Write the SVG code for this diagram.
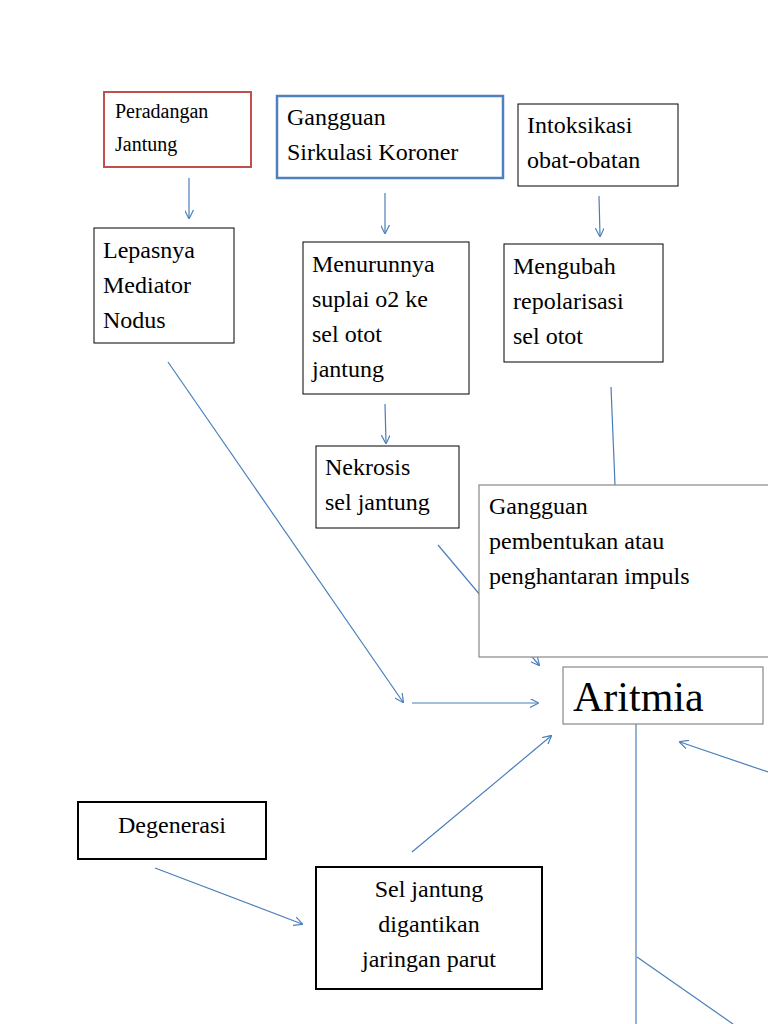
<svg xmlns="http://www.w3.org/2000/svg" width="768" height="1024" viewBox="0 0 768 1024">
<defs>
<marker id="a" viewBox="0 0 10 10" refX="9" refY="5" markerWidth="9" markerHeight="9" markerUnits="userSpaceOnUse" orient="auto"><path d="M0,0 L10,5 L0,10" fill="none" stroke="#4a7ebb" stroke-width="1.3"/></marker>
</defs>
<style>
text{font-family:"Liberation Serif",serif;fill:#000}
.b{fill:#fff;stroke:#000;stroke-width:1}
.c{stroke:#4a7ebb;stroke-width:1.2;fill:none}
.m{marker-end:url(#a)}
</style>
<rect width="768" height="1024" fill="#fff"/>
<g id="connectors">
<line class="c m" x1="189" y1="178" x2="189" y2="218"/>
<line class="c m" x1="385" y1="193" x2="385" y2="233"/>
<line class="c m" x1="599" y1="196" x2="600" y2="236"/>
<line class="c m" x1="385" y1="404" x2="386" y2="443"/>
<line class="c" x1="611" y1="387" x2="615" y2="485"/>
<line class="c m" x1="438" y1="545" x2="539" y2="665"/>
<line class="c m" x1="168" y1="362" x2="403" y2="702"/>
<line class="c m" x1="412" y1="703" x2="538" y2="703"/>
<line class="c m" x1="412" y1="852" x2="551" y2="736"/>
<line class="c m" x1="155" y1="868" x2="302" y2="924"/>
<line class="c m" x1="768" y1="772" x2="680" y2="742"/>
<line class="c" x1="636" y1="724" x2="636" y2="1024"/>
<line class="c" x1="637" y1="957" x2="733" y2="1024"/>
</g>
<g id="peradangan"><rect x="104" y="92" width="147" height="75" fill="#fff" stroke="#c0504d" stroke-width="2"/><text x="115" y="118" font-size="20">Peradangan</text><text x="115" y="151" font-size="20">Jantung</text></g>
<g id="gangguan-sirkulasi"><rect x="277" y="96" width="226" height="82" fill="#fff" stroke="#4f81bd" stroke-width="2.5"/><text x="287" y="125" font-size="24">Gangguan</text><text x="287" y="160" font-size="24">Sirkulasi Koroner</text></g>
<g id="intoksikasi"><rect class="b" x="518" y="104" width="160" height="82"/><text x="527" y="133" font-size="24">Intoksikasi</text><text x="527" y="168" font-size="24">obat-obatan</text></g>
<g id="lepasnya"><rect class="b" x="94" y="228" width="140" height="115"/><text x="103" y="258" font-size="24">Lepasnya</text><text x="103" y="293" font-size="24">Mediator</text><text x="103" y="328" font-size="24">Nodus</text></g>
<g id="menurunnya"><rect class="b" x="303" y="242" width="166" height="152"/><text x="312" y="272" font-size="24">Menurunnya</text><text x="312" y="307" font-size="24">suplai o2 ke</text><text x="312" y="342" font-size="24">sel otot</text><text x="312" y="377" font-size="24">jantung</text></g>
<g id="mengubah"><rect class="b" x="504" y="244" width="159" height="118"/><text x="513" y="274" font-size="24">Mengubah</text><text x="513" y="309" font-size="24">repolarisasi</text><text x="513" y="344" font-size="24">sel otot</text></g>
<g id="nekrosis"><rect class="b" x="316" y="446" width="143" height="82"/><text x="325" y="475" font-size="24">Nekrosis</text><text x="325" y="510" font-size="24">sel jantung</text></g>
<g id="gangguan-pembentukan"><rect x="479" y="485" width="295" height="172" fill="#fff" stroke="#888" stroke-width="1.2"/><text x="489" y="514" font-size="24">Gangguan</text><text x="489" y="549" font-size="24">pembentukan atau</text><text x="489" y="584" font-size="24">penghantaran impuls</text></g>
<g id="aritmia"><rect x="563" y="667" width="200" height="57" fill="#fff" stroke="#888" stroke-width="1.2"/><text x="573" y="711" font-size="42">Aritmia</text></g>
<g id="degenerasi"><rect x="78" y="802" width="188" height="57" fill="#fff" stroke="#000" stroke-width="2"/><text x="172" y="833" font-size="24" text-anchor="middle">Degenerasi</text></g>
<g id="sel-jantung"><rect x="316" y="867" width="226" height="122" fill="#fff" stroke="#000" stroke-width="2"/><text x="429" y="897" font-size="24" text-anchor="middle">Sel jantung</text><text x="429" y="932" font-size="24" text-anchor="middle">digantikan</text><text x="429" y="967" font-size="24" text-anchor="middle">jaringan parut</text></g>
</svg>
